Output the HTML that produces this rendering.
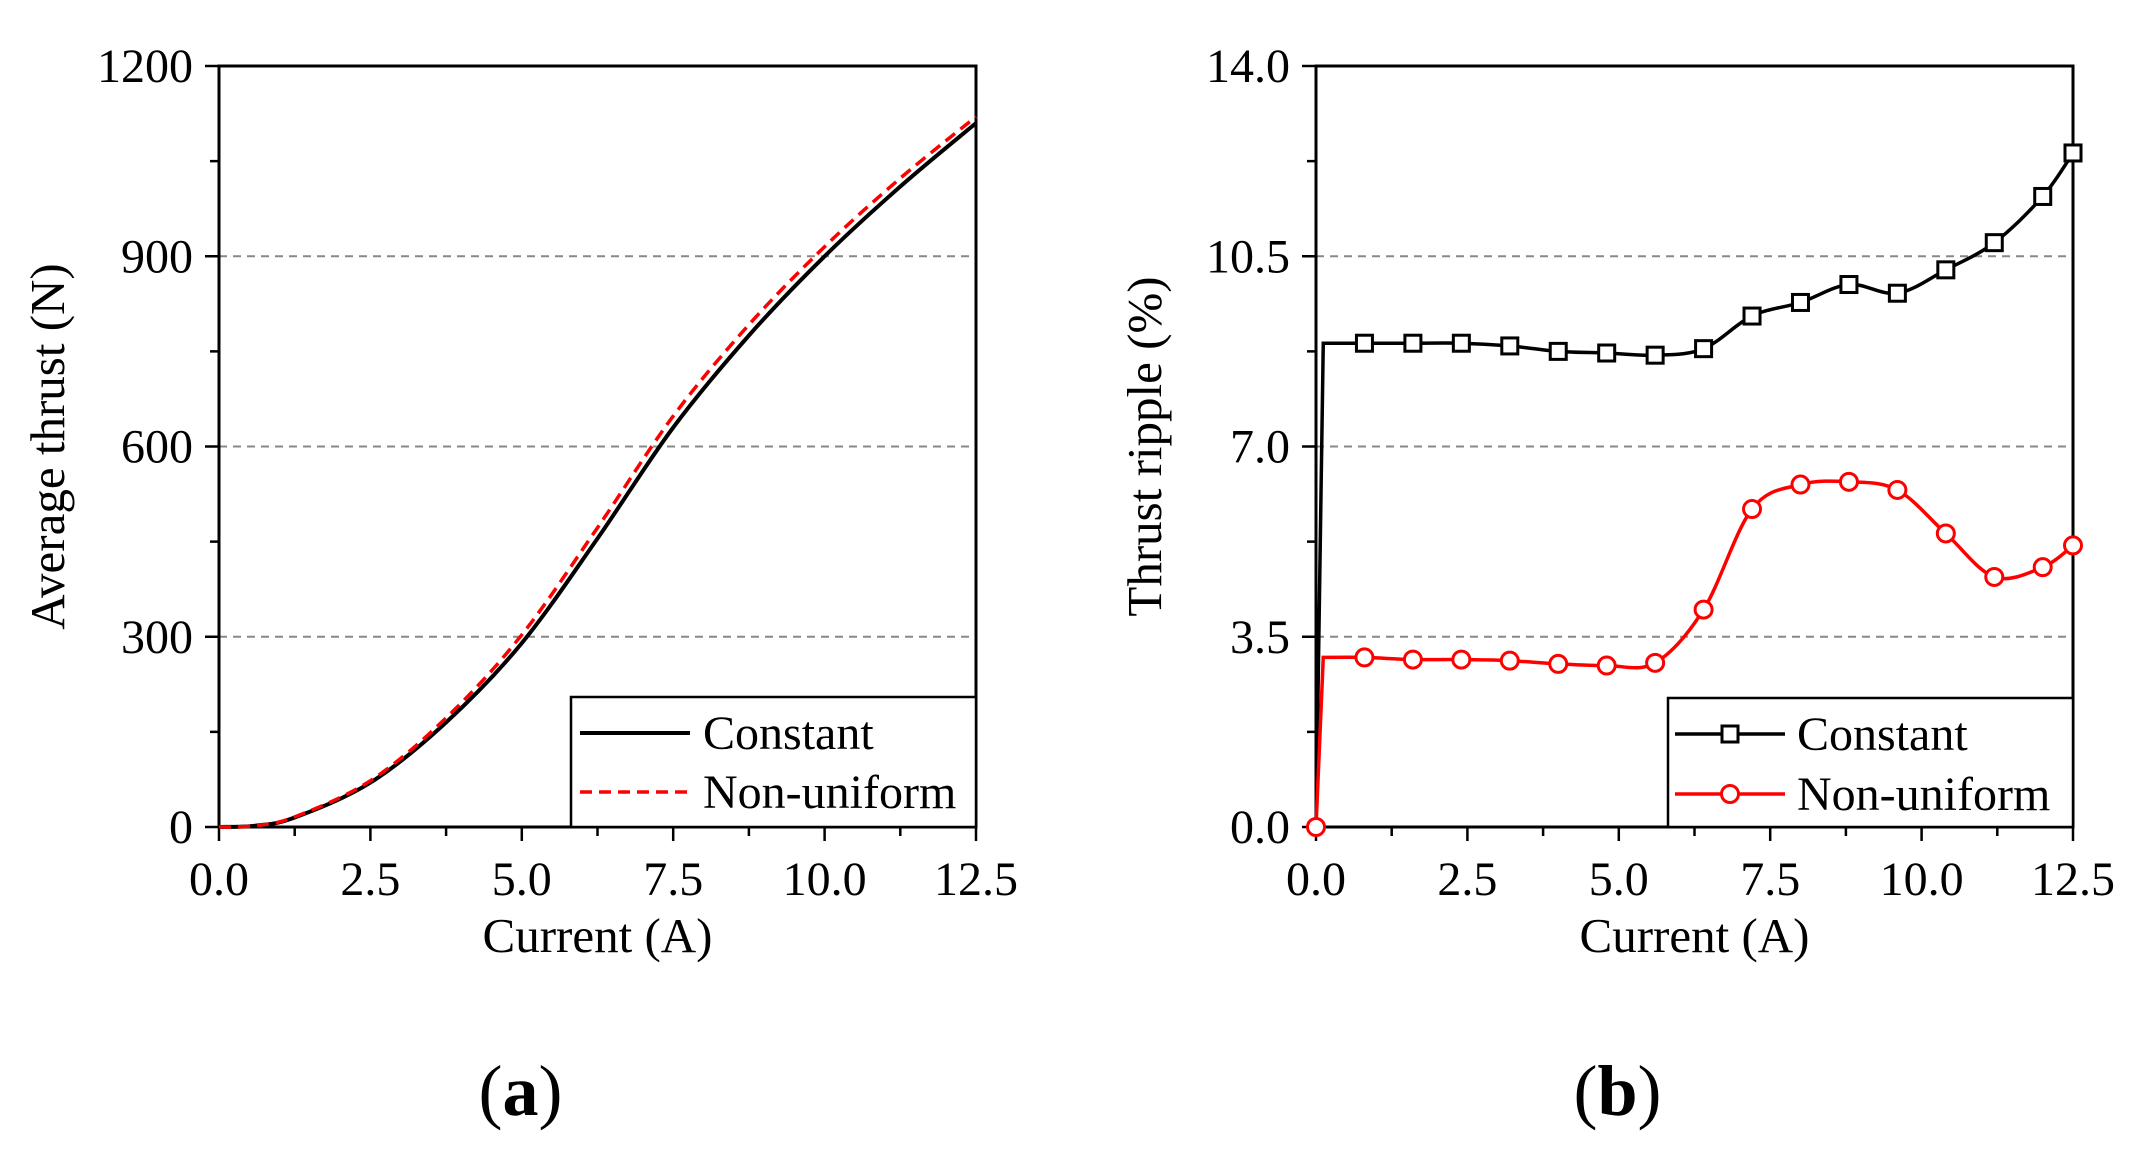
<!DOCTYPE html>
<html><head><meta charset="utf-8"><style>
html,body{margin:0;padding:0;background:#fff;}
svg{display:block;font-family:"Liberation Serif",serif;}
</style></head><body>
<svg id="s" width="2137" height="1158" viewBox="0 0 2137 1158" xmlns="http://www.w3.org/2000/svg"></svg>
<script>
const S=document.getElementById('s');let h='';
function spline(pts){let d='M'+pts[0][0].toFixed(1)+','+pts[0][1].toFixed(1);
for(let i=0;i<pts.length-1;i++){const p0=pts[Math.max(0,i-1)],p1=pts[i],p2=pts[i+1],p3=pts[Math.min(pts.length-1,i+2)];
const c1=[p1[0]+(p2[0]-p0[0])/6,p1[1]+(p2[1]-p0[1])/6],c2=[p2[0]-(p3[0]-p1[0])/6,p2[1]-(p3[1]-p1[1])/6];
d+=' C'+c1.map(v=>v.toFixed(1))+' '+c2.map(v=>v.toFixed(1))+' '+p2.map(v=>v.toFixed(1));}return d;}
function panel(L,ymax,yt,fmt,title,label){
 const R=L+757,T=66,B=827;
 const X=x=>L+x/12.5*(R-L),Y=v=>B-v/ymax*(B-T);
 for(let i=1;i<4;i++)h+=`<line x1="${L}" x2="${R}" y1="${Y(yt*i)}" y2="${Y(yt*i)}" stroke="#888" stroke-width="2" stroke-dasharray="8,6"/>`;
 for(let i=0;i<=8;i++){const y=Y(yt/2*i);h+=`<line x1="${L-(i%2?9:14)}" x2="${L}" y1="${y}" y2="${y}" stroke="#000" stroke-width="2.5"/>`;
  if(i%2==0)h+=`<text x="${L-26}" y="${y+16}" font-size="48" text-anchor="end">${fmt(yt/2*i)}</text>`;}
 for(let i=0;i<=10;i++){const x=X(1.25*i);h+=`<line x1="${x}" x2="${x}" y1="${B}" y2="${B+(i%2?9:14)}" stroke="#000" stroke-width="2.5"/>`;
  if(i%2==0)h+=`<text x="${x}" y="${B+68}" font-size="48" text-anchor="middle">${(1.25*i).toFixed(1)}</text>`;}
 h+=`<rect x="${L}" y="${T}" width="${R-L}" height="${B-T}" fill="none" stroke="#000" stroke-width="3"/>`;
 h+=`<text x="${(L+R)/2}" y="${B+125}" font-size="49" text-anchor="middle">Current (A)</text>`;
 h+=`<text transform="translate(${L-155},${(T+B)/2}) rotate(-90)" font-size="49" text-anchor="middle">${title}</text>`;
 h+=`<text x="${(L+R)/2-77}" y="1115" font-size="72" text-anchor="middle">(<tspan font-weight="bold">${label}</tspan>)</text>`;
 return {X,Y,L,R,T,B};
}
let a=panel(219,1200,300,v=>v.toFixed(0),'Average thrust (N)','a');
const ca=[[0,0],[0.6,2],[1.25,15],[2.5,70],[3.75,165],[5,290],[6.25,455],[7.5,630],[8.75,775],[10,900],[11.25,1010],[12.5,1110]];
const na=[[0,0],[0.6,2],[1.25,16],[2.5,73],[3.75,172],[5,303],[6.25,472],[7.5,648],[8.75,792],[10,915],[11.25,1023],[12.5,1120]];
h+=`<path d="${spline(ca.map(p=>[a.X(p[0]),a.Y(p[1])]))}" fill="none" stroke="#000" stroke-width="4"/>`;
h+=`<path d="${spline(na.map(p=>[a.X(p[0]),a.Y(p[1])]))}" fill="none" stroke="#f00" stroke-width="3.5" stroke-dasharray="12,7"/>`;
h+=`<rect x="571" y="697" width="405" height="130" fill="#fff" stroke="#000" stroke-width="2.5"/>`;
h+=`<line x1="580" x2="690" y1="733" y2="733" stroke="#000" stroke-width="4"/><text x="703" y="749" font-size="48">Constant</text>`;
h+=`<line x1="580" x2="690" y1="792" y2="792" stroke="#f00" stroke-width="3.5" stroke-dasharray="12,7"/><text x="703" y="808" font-size="48">Non-uniform</text>`;
let b=panel(1316,14,3.5,v=>v.toFixed(1),'Thrust ripple (%)','b');
const xs=[0.8,1.6,2.4,3.2,4.0,4.8,5.6,6.4,7.2,8.0,8.8,9.6,10.4,11.2,12.0,12.5];
const cb=[8.9,8.9,8.9,8.85,8.75,8.72,8.68,8.8,9.4,9.65,9.98,9.82,10.25,10.75,11.6,12.4];
const rb=[3.12,3.08,3.08,3.06,3.0,2.97,3.02,4.0,5.85,6.3,6.35,6.2,5.4,4.6,4.78,5.18];
function series(vals,col,marker){
 const pts=[[b.X(0),b.Y(0)],[b.X(0.12),b.Y(vals[0])]];
 const sm=xs.map((x,i)=>[b.X(x),b.Y(vals[i])]);sm.unshift([b.X(0.12),b.Y(vals[0])]);
 h+=`<path d="M${pts[0]} L${pts[1]} ${spline(sm).slice(1).replace(/^[^C]*/,'')}" fill="none" stroke="${col}" stroke-width="3.5"/>`;
 sm.slice(1).forEach(p=>h+=marker(p[0],p[1]));
}
const sq=(x,y)=>`<rect x="${x-8}" y="${y-8}" width="16" height="16" fill="#fff" stroke="#000" stroke-width="3"/>`;
const ci=(x,y)=>`<circle cx="${x}" cy="${y}" r="8.5" fill="#fff" stroke="#f00" stroke-width="3"/>`;
series(cb,'#000',sq);series(rb,'#f00',ci);
h+=ci(b.X(0),b.Y(0));
h+=`<rect x="1668" y="698" width="405" height="129" fill="#fff" stroke="#000" stroke-width="2.5"/>`;
h+=`<line x1="1675" x2="1785" y1="734" y2="734" stroke="#000" stroke-width="3.5"/>`+sq(1730,734)+`<text x="1797" y="750" font-size="48">Constant</text>`;
h+=`<line x1="1675" x2="1785" y1="794" y2="794" stroke="#f00" stroke-width="3.5"/>`+ci(1730,794)+`<text x="1797" y="810" font-size="48">Non-uniform</text>`;
S.innerHTML=h;
</script>
</body></html>
